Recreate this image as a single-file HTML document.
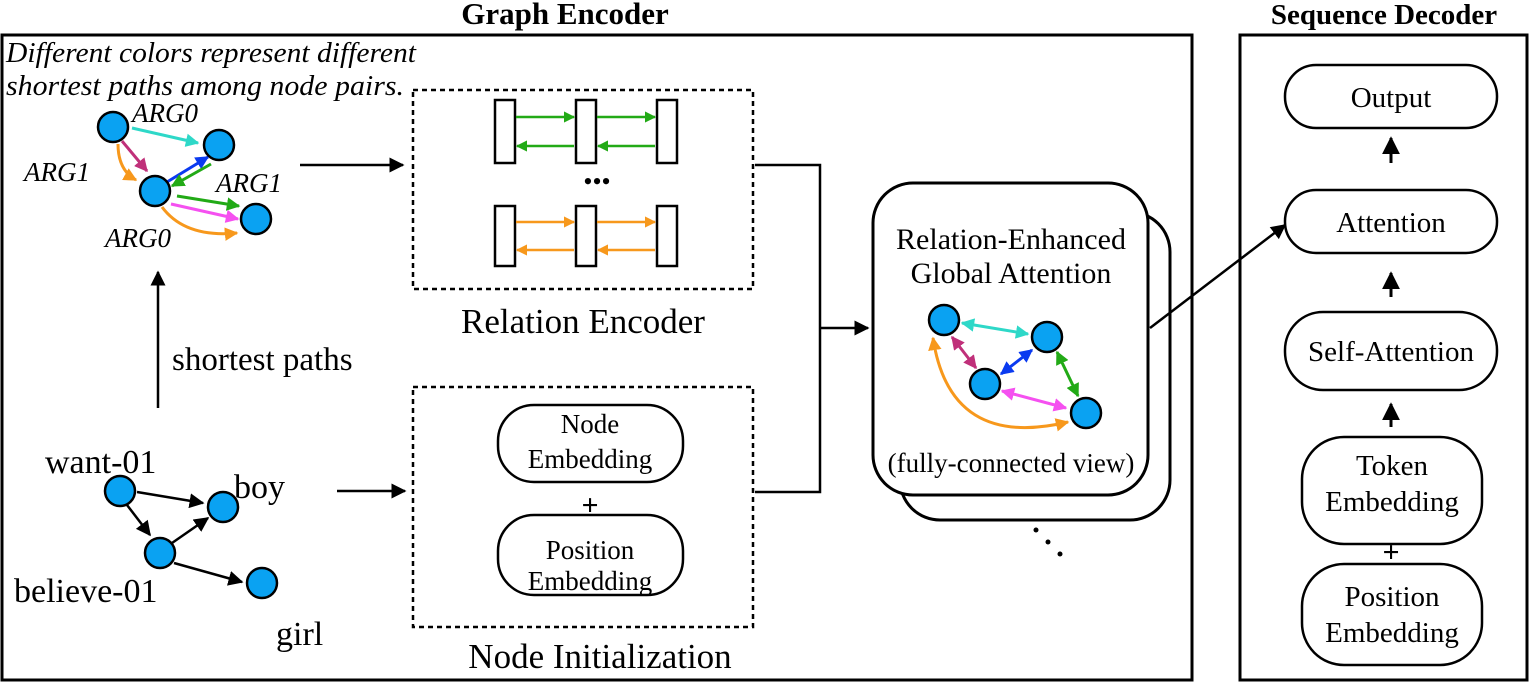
<!DOCTYPE html>
<html><head><meta charset="utf-8"><style>
html,body{margin:0;padding:0;background:#fff;}
svg{display:block;font-family:"Liberation Serif",serif;}
</style></head><body>
<svg width="1530" height="684" viewBox="0 0 1530 684" xmlns="http://www.w3.org/2000/svg">
<defs>
<marker id="ak" viewBox="0 0 10 10" refX="9" refY="5" markerWidth="6" markerHeight="6" orient="auto-start-reverse"><path d="M0,0L10,5L0,10z" fill="#000"/></marker>
<marker id="a_cy" viewBox="0 0 10 10" refX="9" refY="5" markerWidth="4.5" markerHeight="4.5" orient="auto-start-reverse"><path d="M0,0L10,5L0,10z" fill="#2ed8c8"/></marker>
<marker id="a_mg" viewBox="0 0 10 10" refX="9" refY="5" markerWidth="4.5" markerHeight="4.5" orient="auto-start-reverse"><path d="M0,0L10,5L0,10z" fill="#c0307a"/></marker>
<marker id="a_or" viewBox="0 0 10 10" refX="9" refY="5" markerWidth="4.5" markerHeight="4.5" orient="auto-start-reverse"><path d="M0,0L10,5L0,10z" fill="#f7981c"/></marker>
<marker id="a_bl" viewBox="0 0 10 10" refX="9" refY="5" markerWidth="4.5" markerHeight="4.5" orient="auto-start-reverse"><path d="M0,0L10,5L0,10z" fill="#0a3af0"/></marker>
<marker id="a_gr" viewBox="0 0 10 10" refX="9" refY="5" markerWidth="4.5" markerHeight="4.5" orient="auto-start-reverse"><path d="M0,0L10,5L0,10z" fill="#22aa16"/></marker>
<marker id="a_pk" viewBox="0 0 10 10" refX="9" refY="5" markerWidth="4.5" markerHeight="4.5" orient="auto-start-reverse"><path d="M0,0L10,5L0,10z" fill="#f550f0"/></marker>
</defs>

<!-- titles -->
<text x="565" y="24" font-size="31" font-weight="bold" text-anchor="middle">Graph Encoder</text>
<text x="1384" y="24" font-size="29" font-weight="bold" text-anchor="middle">Sequence Decoder</text>

<!-- main boxes -->
<rect x="2" y="35" width="1190" height="645" fill="none" stroke="#000" stroke-width="3"/>
<rect x="1240" y="35" width="287" height="645" fill="none" stroke="#000" stroke-width="3"/>

<!-- italic caption -->
<text x="6" y="62" font-size="29" font-style="italic" textLength="410" lengthAdjust="spacingAndGlyphs">Different colors represent different</text>
<text x="6" y="95" font-size="29" font-style="italic" textLength="398" lengthAdjust="spacingAndGlyphs">shortest paths among node pairs.</text>

<!-- top graph edges -->
<g stroke-width="3" fill="none">
<line x1="132" y1="128" x2="198" y2="143" stroke="#2ed8c8" marker-end="url(#a_cy)"/>
<line x1="122" y1="141" x2="147" y2="171" stroke="#c0307a" marker-end="url(#a_mg)"/>
<path d="M118,144 Q118,170 136,180" stroke="#f7981c" marker-end="url(#a_or)"/>
<line x1="167" y1="182" x2="208" y2="157" stroke="#0a3af0" marker-end="url(#a_bl)"/>
<line x1="211" y1="164" x2="172" y2="186" stroke="#22aa16" marker-end="url(#a_gr)"/>
<line x1="177" y1="196" x2="239" y2="206" stroke="#22aa16" marker-end="url(#a_gr)"/>
<line x1="171" y1="204" x2="238" y2="219" stroke="#f550f0" marker-end="url(#a_pk)"/>
<path d="M162,207 Q185,238 237,233" stroke="#f7981c" marker-end="url(#a_or)"/>
</g>
<g fill="#0aa2f2" stroke="#000" stroke-width="2.5">
<circle cx="113" cy="127" r="15"/><circle cx="219" cy="145" r="15"/>
<circle cx="155" cy="191" r="15"/><circle cx="256" cy="219" r="15"/>
</g>
<g font-size="27" font-style="italic">
<text x="132" y="122">ARG0</text>
<text x="24" y="181">ARG1</text>
<text x="216" y="192">ARG1</text>
<text x="105" y="247">ARG0</text>
</g>

<!-- arrows left -->
<line x1="300" y1="165" x2="403" y2="165" stroke="#000" stroke-width="2.5" marker-end="url(#ak)"/>
<line x1="158" y1="408" x2="158" y2="272" stroke="#000" stroke-width="2.5" marker-end="url(#ak)"/>
<text x="172" y="370" font-size="33">shortest paths</text>
<line x1="337" y1="491" x2="405" y2="491" stroke="#000" stroke-width="2.5" marker-end="url(#ak)"/>

<!-- lower graph -->
<g stroke="#000" stroke-width="2.5" fill="none">
<line x1="137" y1="492" x2="203" y2="503" marker-end="url(#ak)"/>
<line x1="127" y1="505" x2="150" y2="535" marker-end="url(#ak)"/>
<line x1="172" y1="543" x2="208" y2="518" marker-end="url(#ak)"/>
<line x1="174" y1="563" x2="242" y2="582" marker-end="url(#ak)"/>
</g>
<g fill="#0aa2f2" stroke="#000" stroke-width="2.5">
<circle cx="120" cy="491" r="15"/><circle cx="223" cy="507" r="15"/>
<circle cx="160" cy="553" r="15"/><circle cx="262" cy="583" r="15"/>
</g>
<g font-size="34">
<text x="45" y="473">want-01</text>
<text x="234" y="498">boy</text>
<text x="14" y="602">believe-01</text>
<text x="276" y="645">girl</text>
</g>

<!-- relation encoder -->
<rect x="413" y="90" width="340" height="199" fill="none" stroke="#000" stroke-width="2.5" stroke-dasharray="5,4"/>
<g fill="#fff" stroke="#000" stroke-width="2.5">
<rect x="495" y="100" width="20" height="63"/><rect x="576" y="100" width="20" height="63"/><rect x="657" y="100" width="20" height="63"/>
<rect x="495" y="206" width="20" height="60"/><rect x="576" y="206" width="20" height="60"/><rect x="657" y="206" width="20" height="60"/>
</g>
<g stroke-width="2.5">
<line x1="516" y1="117" x2="574" y2="117" stroke="#22aa16" marker-end="url(#a_gr)"/>
<line x1="597" y1="117" x2="655" y2="117" stroke="#22aa16" marker-end="url(#a_gr)"/>
<line x1="574" y1="146" x2="517" y2="146" stroke="#22aa16" marker-end="url(#a_gr)"/>
<line x1="655" y1="146" x2="598" y2="146" stroke="#22aa16" marker-end="url(#a_gr)"/>
<line x1="516" y1="222" x2="574" y2="222" stroke="#f7981c" marker-end="url(#a_or)"/>
<line x1="597" y1="222" x2="655" y2="222" stroke="#f7981c" marker-end="url(#a_or)"/>
<line x1="574" y1="250" x2="517" y2="250" stroke="#f7981c" marker-end="url(#a_or)"/>
<line x1="655" y1="250" x2="598" y2="250" stroke="#f7981c" marker-end="url(#a_or)"/>
</g>
<text x="597" y="190" font-size="26" text-anchor="middle">•••</text>
<text x="583" y="333" font-size="35" text-anchor="middle">Relation Encoder</text>

<!-- node initialization -->
<rect x="413" y="387" width="340" height="240" fill="none" stroke="#000" stroke-width="2.5" stroke-dasharray="5,4"/>
<rect x="498" y="405" width="185" height="77" rx="36" fill="none" stroke="#000" stroke-width="2.5"/>
<text x="590" y="433" font-size="27" text-anchor="middle">Node</text>
<text x="590" y="468" font-size="27" text-anchor="middle">Embedding</text>
<text x="590" y="515" font-size="30" font-weight="bold" text-anchor="middle">+</text>
<rect x="498" y="515" width="185" height="80" rx="36" fill="none" stroke="#000" stroke-width="2.5"/>
<text x="590" y="559" font-size="27" text-anchor="middle">Position</text>
<text x="590" y="590" font-size="27" text-anchor="middle">Embedding</text>
<text x="600" y="668" font-size="35" text-anchor="middle">Node Initialization</text>

<!-- connectors -->
<polyline points="755,165 820,165 820,492 755,492" fill="none" stroke="#000" stroke-width="2.5"/>
<line x1="820" y1="328" x2="868" y2="328" stroke="#000" stroke-width="2.5" marker-end="url(#ak)"/>

<!-- attention stack -->
<rect x="900" y="212" width="270" height="308" rx="40" fill="#fff" stroke="#000" stroke-width="3"/>
<rect x="873" y="183" width="275" height="312" rx="40" fill="#fff" stroke="#000" stroke-width="3"/>
<text x="1011" y="249" font-size="30" text-anchor="middle">Relation-Enhanced</text>
<text x="1011" y="283" font-size="30" text-anchor="middle">Global Attention</text>
<text x="1011" y="472" font-size="27" text-anchor="middle">(fully-connected view)</text>
<g stroke-width="3" fill="none">
<line x1="962" y1="323" x2="1028" y2="334" stroke="#2ed8c8" marker-start="url(#a_cy)" marker-end="url(#a_cy)"/>
<line x1="952" y1="337" x2="976" y2="368" stroke="#c0307a" marker-start="url(#a_mg)" marker-end="url(#a_mg)"/>
<line x1="1001" y1="374" x2="1032" y2="350" stroke="#0a3af0" marker-start="url(#a_bl)" marker-end="url(#a_bl)"/>
<line x1="1057" y1="352" x2="1078" y2="396" stroke="#22aa16" marker-start="url(#a_gr)" marker-end="url(#a_gr)"/>
<line x1="1002" y1="391" x2="1066" y2="408" stroke="#f550f0" marker-start="url(#a_pk)" marker-end="url(#a_pk)"/>
<path d="M933,338 Q950,450 1068,422" stroke="#f7981c" marker-start="url(#a_or)" marker-end="url(#a_or)"/>
</g>
<g fill="#0aa2f2" stroke="#000" stroke-width="2.5">
<circle cx="944" cy="320" r="15"/><circle cx="1047" cy="337" r="15"/>
<circle cx="985" cy="384" r="15"/><circle cx="1086" cy="413" r="15"/>
</g>
<circle cx="1036" cy="530" r="2.5"/><circle cx="1048" cy="542" r="2.5"/><circle cx="1060" cy="554" r="2.5"/>

<line x1="1150" y1="328" x2="1285" y2="225" stroke="#000" stroke-width="2.5" marker-end="url(#ak)"/>

<!-- decoder -->
<g fill="none" stroke="#000" stroke-width="2.5">
<rect x="1285" y="65" width="212" height="63" rx="31"/>
<rect x="1285" y="190" width="212" height="63" rx="31"/>
<rect x="1285" y="312" width="212" height="78" rx="38"/>
<rect x="1302" y="437" width="180" height="107" rx="42"/>
<rect x="1302" y="564" width="180" height="101" rx="42"/>
</g>
<g font-size="29" text-anchor="middle">
<text x="1391" y="107">Output</text>
<text x="1391" y="232">Attention</text>
<text x="1391" y="361">Self-Attention</text>
<text x="1392" y="475">Token</text>
<text x="1392" y="511">Embedding</text>
<text x="1392" y="606">Position</text>
<text x="1392" y="642">Embedding</text>
</g>
<text x="1391" y="562" font-size="30" font-weight="bold" text-anchor="middle">+</text>
<g stroke="#000" stroke-width="3">
<line x1="1391" y1="163" x2="1391" y2="138" marker-end="url(#ak)"/>
<line x1="1391" y1="297" x2="1391" y2="273" marker-end="url(#ak)"/>
<line x1="1391" y1="427" x2="1391" y2="404" marker-end="url(#ak)"/>
</g>
</svg>
</body></html>
